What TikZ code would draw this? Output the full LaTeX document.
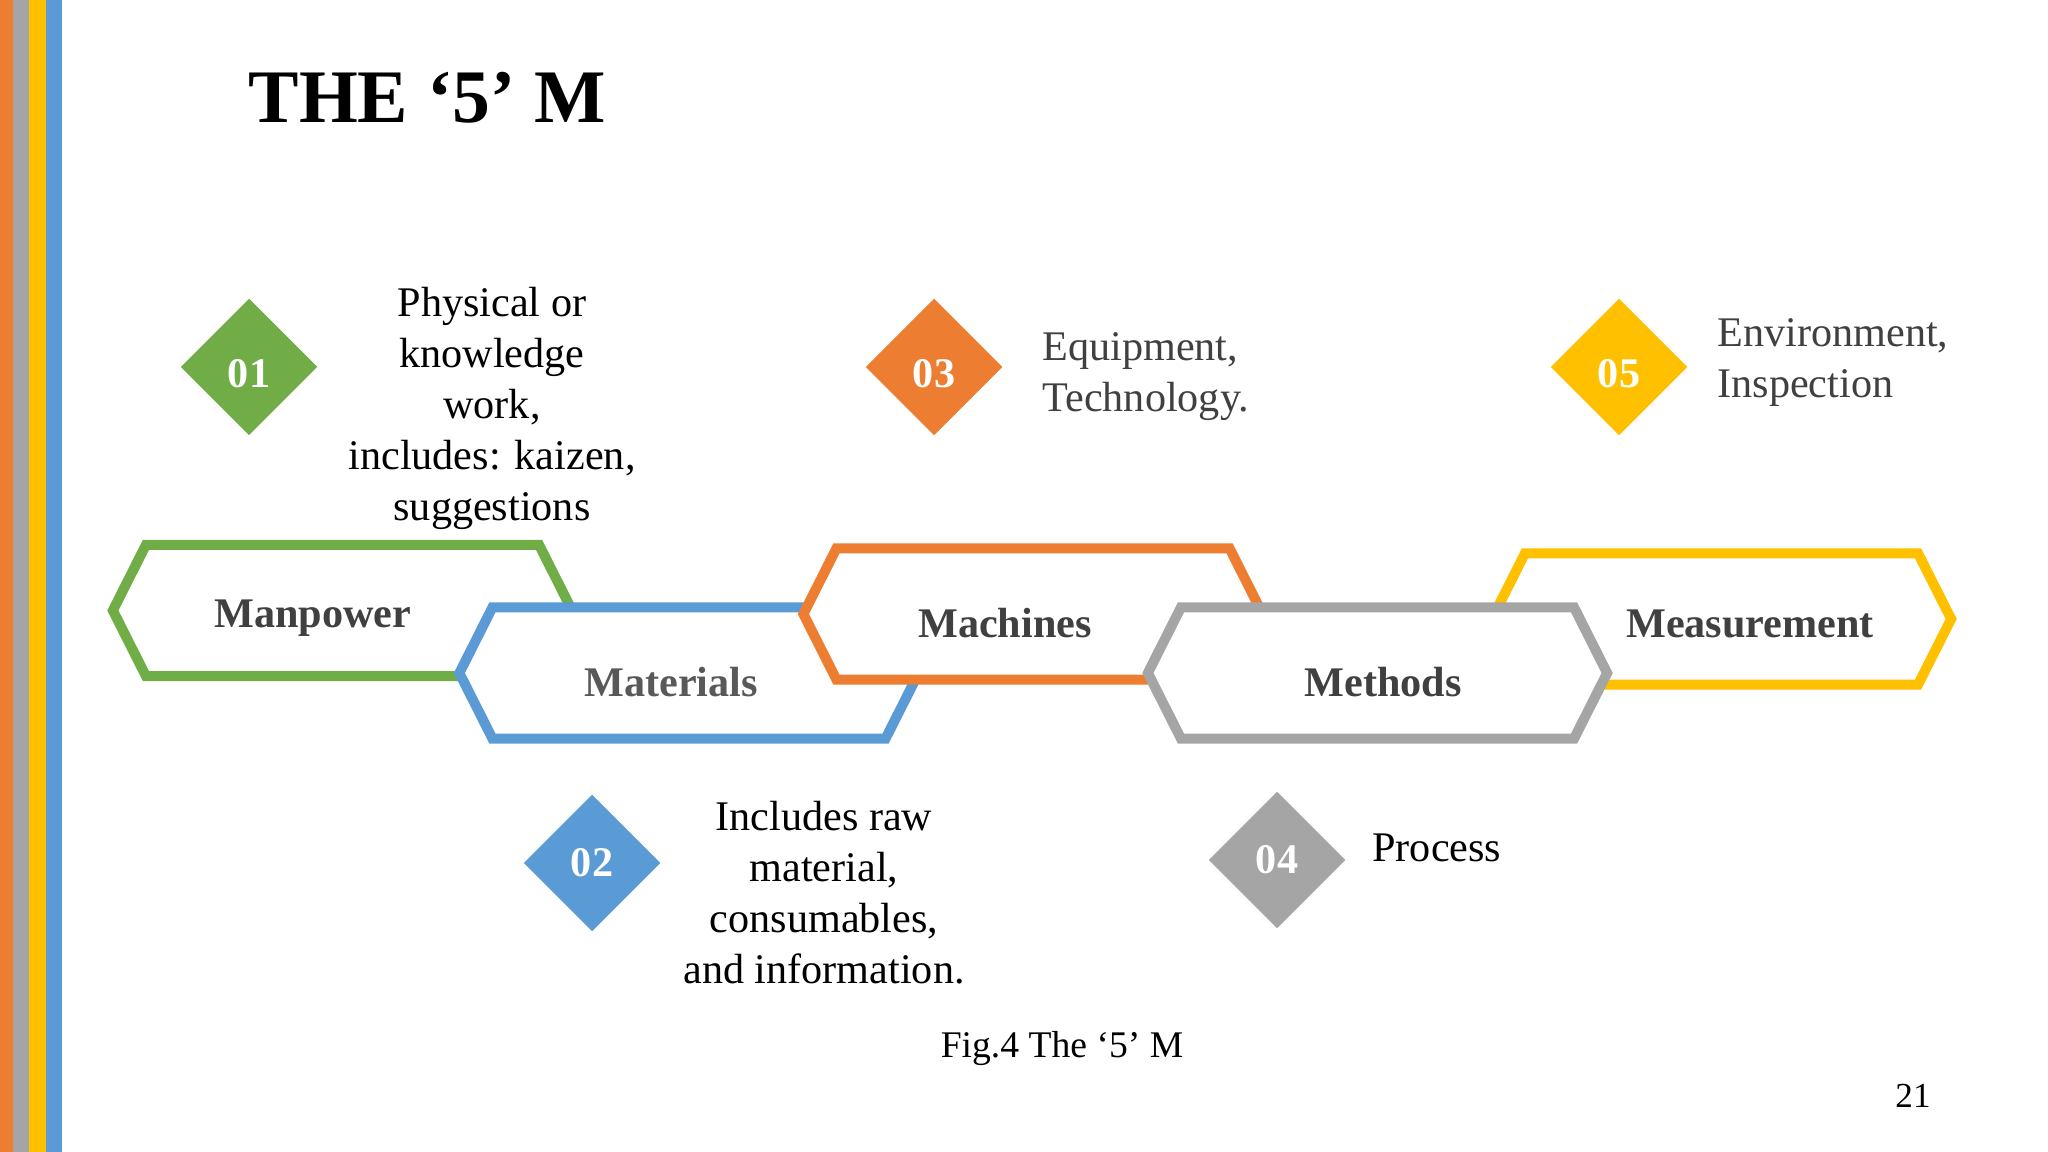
\documentclass[tikz,border=0pt]{standalone}
\usepackage{fontspec}
\setmainfont{Liberation Serif}
\usetikzlibrary{positioning, shapes.geometric, shapes.symbols}
\definecolor{mgreen}{HTML}{70AD47}
\definecolor{mblue}{HTML}{5B9BD5}
\definecolor{morange}{HTML}{ED7D31}
\definecolor{mgrey}{HTML}{A5A5A5}
\definecolor{myellow}{HTML}{FFC000}
\definecolor{inkdark}{HTML}{404040}
\definecolor{inkmid}{HTML}{595959}
\newcommand{\bodyfont}{\fontsize{12}{14.5}\selectfont}

\begin{document}
\begin{tikzpicture}[x=0.01cm, y=-0.01cm,
      every node/.style={inner sep=0pt},
      hexbox/.style={shape=signal, signal to=east and west, signal pointer angle=126.5,
        draw=#1, line width=2.85pt, fill=white, minimum width=4.59cm, minimum height=1.31cm},
      mlabel/.style={font=\bodyfont\bfseries, text=inkdark, anchor=base},
      badge/.style={shape=diamond, fill=#1, minimum width=1.37cm, minimum height=1.37cm,
        font=\bodyfont\bfseries, text=white},
      lowbadge/.style={badge=#1, text height=4.1mm, text depth=0pt},
      note/.style={font=\bodyfont, align=#1},
    ]
      \useasboundingbox[fill=white] (0,0) rectangle (2048,1152);

      % colour bars on the left edge
      \foreach \c/\a/\b in {morange/0/13, mgrey/13/29, myellow/29/46, mblue/46/62}
        \fill[\c] (\a,0) rectangle (\b,1152);

      \node[font=\fontsize{21.5}{26}\selectfont\bfseries, anchor=base west] (title) at (248,123) {THE ‘5’ M};

      % the five M boxes
      \node[hexbox=mgreen]  (manpower)    at (342.5,610.5) {};
      \node[hexbox=mblue]   (materials)   at (689,673)     {};
      \node[hexbox=morange] (machines)    at (1033,614)    {};
      \node[hexbox=myellow] (measurement) at (1721.5,619)  {};
      \node[hexbox=mgrey]   (methods)     at (1377.5,673)  {};

      \node[mlabel] (lmanpower)    at (313,627)  {Manpower};
      \node[mlabel, text=inkmid] (lmaterials) at (671,696) {Materials};
      \node[mlabel] (lmachines)    at (1005,637) {Machines};
      \node[mlabel] (lmethods)     at (1383,696) {Methods};
      \node[mlabel] (lmeasurement) at (1750,637) {Measurement};

      % numbered badges
      \node[lowbadge=mgreen]  (b01) at (249,367)  {01};
      \node[badge=mblue]      (b02) at (592,863)  {02};
      \node[lowbadge=morange] (b03) at (934,367)  {03};
      \node[badge=mgrey]      (b04) at (1277,860) {04};
      \node[lowbadge=myellow] (b05) at (1619,367) {05};

      \node[note=center] (t01) at (492,408) {Physical or\\knowledge\\work,\\includes: kaizen,\\suggestions};
      \node[note=center] (t02) at (824,893) {Includes raw\\material,\\consumables,\\and information.};
      \node[note=left, text=inkdark, right=3.85mm of b03, yshift=-1mm] (t03) {Equipment,\\Technology.};
      \node[note=left, right=2.55mm of b04, yshift=1.2mm] (t04) {Process};
      \node[note=left, text=inkdark, right=2.85mm of b05, yshift=0.4mm] (t05) {Environment,\\Inspection};

      \node[font=\fontsize{10.7}{13}\selectfont, anchor=base] (caption) at (1062,1057) {Fig.4 The ‘5’ M};
      \node[font=\fontsize{10}{12}\selectfont, anchor=base] (pagenum) at (1913,1107) {21};
    \end{tikzpicture}
\end{document}
